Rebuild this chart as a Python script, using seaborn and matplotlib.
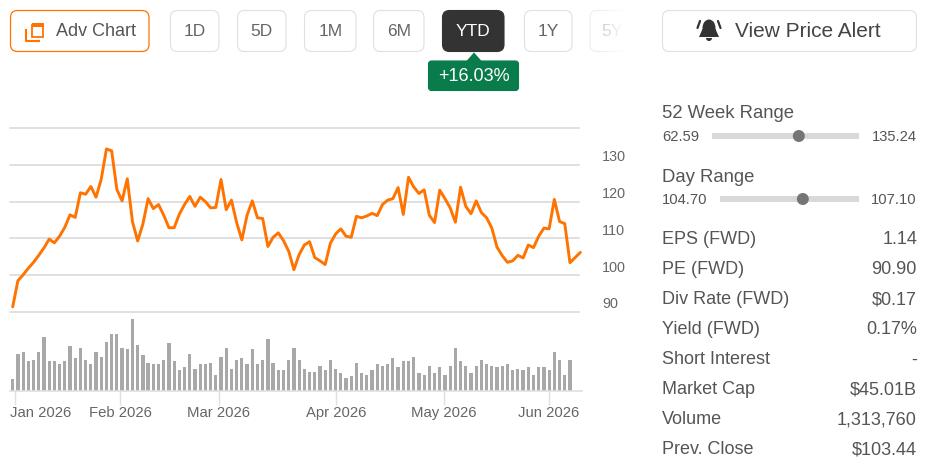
import numpy as np
import pandas as pd
import seaborn as sns
import matplotlib
matplotlib.use("Agg")
import matplotlib.pyplot as plt
from matplotlib.patches import FancyBboxPatch, Rectangle, Polygon, Circle, Ellipse, Wedge
from matplotlib.transforms import ScaledTranslation

# Daily closing price for each session, year to date
price = [91.4, 98.5, 100.1, 101.9, 103.5, 105.4, 107.4, 109.8, 108.8, 110.6,
         113.0, 116.4, 115.7, 122.4, 122.0, 124.1, 121.2, 126.1, 134.3, 133.8,
         123.3, 120.2, 126.2, 114.5, 109.3, 113.9, 120.8, 118.1, 119.2, 116.3,
         112.9, 112.9, 116.6, 119.2, 121.4, 118.7, 121.2, 120.0, 118.3, 118.4,
         126.0, 117.8, 120.4, 114.3, 109.6, 116.3, 120.2, 115.6, 115.4, 107.8,
         110.3, 111.5, 109.4, 106.5, 101.5, 105.6, 108.2, 109.1, 104.8, 103.9,
         102.9, 108.7, 111.2, 112.6, 110.6, 110.3, 116.0, 115.6, 116.1, 116.8,
         116.2, 119.2, 120.4, 120.8, 123.8, 116.5, 126.6, 124.0, 122.2, 123.2,
         116.3, 114.3, 123.1, 120.8, 118.3, 114.4, 123.9, 118.7, 116.7, 120.2,
         117.0, 115.6, 112.8, 107.6, 105.3, 103.5, 103.9, 105.4, 104.7, 108.2,
         107.5, 110.6, 112.8, 112.6, 120.6, 114.6, 114.0, 103.4, 104.8, 106.2]

# Daily traded volume, millions of shares
volume = [0.35, 1.12, 1.16, 0.89, 0.94, 1.16, 1.61, 0.89, 0.89, 0.80,
          0.89, 1.34, 0.98, 1.30, 0.94, 0.80, 1.16, 1.03, 1.48, 1.70,
          1.70, 1.30, 1.25, 2.15, 1.39, 1.07, 0.85, 0.80, 0.80, 0.94,
          1.43, 0.89, 0.62, 0.71, 1.12, 0.67, 0.80, 0.80, 0.85, 0.49,
          1.03, 1.30, 0.67, 0.94, 0.98, 0.80, 1.25, 0.80, 0.94, 1.57,
          0.85, 0.62, 0.62, 0.94, 1.30, 0.94, 0.67, 0.58, 0.58, 0.76,
          0.62, 0.94, 0.67, 0.53, 0.40, 0.44, 0.85, 0.53, 0.49, 0.62,
          0.80, 0.76, 0.80, 0.98, 0.71, 0.89, 0.89, 1.03, 0.53, 0.49,
          0.76, 0.53, 0.71, 0.49, 0.76, 1.30, 0.89, 0.76, 0.53, 0.76,
          0.94, 0.80, 0.76, 0.71, 0.76, 0.80, 0.62, 0.67, 0.62, 0.71,
          0.49, 0.71, 0.71, 0.62, 1.16, 0.94, 0.49, 0.94]

month_labels = ["Jan 2026", "Feb 2026", "Mar 2026", "Apr 2026", "May 2026", "Jun 2026"]
month_sessions = [0.44, 20.6, 39.6, 62.1, 82.8, 103.0]
price_grid = [90, 100, 110, 120, 130, 140]
price_ticks = ["90", "100", "110", "120", "130", ""]

periods = ["1D", "5D", "1M", "6M", "YTD", "1Y", "5Y"]
ytd_change = "+16.03%"
stat_names = ["EPS (FWD)", "PE (FWD)", "Div Rate (FWD)", "Yield (FWD)",
              "Short Interest", "Market Cap", "Volume", "Prev. Close"]
stat_values = ["1.14", "90.90", "$0.17", "0.17%", "-", "$45.01B", "1,313,760", "$103.44"]
week_range = (62.59, 135.24)
day_range = (104.70, 107.10)
week_marker = 105.5
day_marker = 106.13

W, H = 936, 469
ORANGE = "#ff7300"
TEXT = "#555555"
GRID = "#e0e0e0"
BAR = "#a8a8a8"

sns.set_theme(style="white")
plt.rcParams["font.family"] = ["Liberation Sans", "DejaVu Sans"]

fig = plt.figure(figsize=(W / 100, H / 100), dpi=100, facecolor="white")


def px_axes(x0, y0, x1, y1, **kw):
    """Axes placed by its pixel box, with y measured from the top edge."""
    return fig.add_axes([x0 / W, 1 - y1 / H, (x1 - x0) / W, (y1 - y0) / H], **kw)


# Page furniture drawn in pixel units
ui = px_axes(0, 0, W, H)
ui.set_xlim(0, W)
ui.set_ylim(H, 0)
ui.axis("off")


def button(x0, x1, y0=10.5, y1=51.5, edge="#e0e0e0", face="white", lw=0.8, r=7):
    ui.add_patch(FancyBboxPatch((x0 + r, y0 + r), x1 - x0 - 2 * r, y1 - y0 - 2 * r,
                                boxstyle=f"round,pad={r},rounding_size={r}",
                                ec=edge, fc=face, lw=lw, mutation_aspect=1))


# Advanced chart button with its stacked-window icon
button(10.5, 149, edge=ORANGE, lw=0.9)
ui.add_patch(Rectangle((32, 25.5), 11, 11.5, fc="white", ec=ORANGE, lw=1.3))
ui.add_patch(Rectangle((31.5, 23), 12, 4, fc=ORANGE, ec="none"))
ui.plot([26, 26, 40], [29, 41, 41], color=ORANGE, lw=1.5, solid_capstyle="butt")
ui.text(56, 31.5, "Adv Chart", fontsize=13, color=TEXT, va="center", ha="left")

# Period selector
boxes = [(170.5, 219), (237.5, 286), (304.5, 356), (373.5, 424), (442.5, 504), (524.5, 572), (590, 640)]
for name, (x0, x1) in zip(periods, boxes):
    active = name == "YTD"
    faded = name == "5Y"
    button(x0, x1, edge="#333333" if active else ("#eeeeee" if faded else "#e0e0e0"),
           face="#333333" if active else "white")
    ui.text((x0 + x1) / 2 if not faded else 612, 31.5, name, fontsize=12.5,
            color="white" if active else ("#cccccc" if faded else "#666666"),
            ha="center", va="center")

# The selector fades out towards its right edge
fade = np.ones((1, 30, 4))
fade[0, :, 3] = np.linspace(0, 1, 30)
ui.imshow(fade, extent=(600, 625, 5, 57), aspect="auto", zorder=5)
ui.add_patch(Rectangle((625, 5), 20, 52, fc="white", ec="none", zorder=5))
ui.set_xlim(0, W)
ui.set_ylim(H, 0)

# Year-to-date change badge under the active period
ui.add_patch(Polygon([[466, 61.5], [474, 52.5], [482, 61.5]], fc="#0a7b4a", ec="none"))
button(428.5, 518.5, 61, 90.5, edge="#0a7b4a", face="#0a7b4a", r=3)
ui.text(473.5, 76.5, ytd_change, fontsize=13, color="white", ha="center", va="center")

# Price alert button with a bell icon
button(662.5, 916.5)
ui.add_patch(Ellipse((709, 28), 13, 17, fc="#333333", ec="none"))
ui.add_patch(Polygon([[702.5, 29], [715.5, 29], [719, 37], [699, 37]], fc="#333333", ec="none"))
ui.add_patch(Wedge((709, 38), 3, 0, 180, fc="#333333", ec="none"))
ui.plot([700, 697.5], [21, 28], color="#333333", lw=1.6)
ui.plot([718, 720.5], [21, 28], color="#333333", lw=1.6)
ui.text(735, 31.5, "View Price Alert", fontsize=15, color="#444444", ha="left", va="center")


def range_row(title, y_title, y_bar, bounds, marker, left, right, low_text, high_text):
    ui.text(662, y_title + 1, title, fontsize=13.3, color=TEXT, ha="left", va="center")
    ui.text(662, y_bar + 1, low_text, fontsize=10.6, color=TEXT, ha="left", va="center")
    ui.text(917, y_bar + 1, high_text, fontsize=10.6, color=TEXT, ha="right", va="center")
    ui.add_patch(Rectangle((left, y_bar - 3), right - left, 6, fc="#d9d9d9", ec="none"))
    frac = (marker - bounds[0]) / (bounds[1] - bounds[0])
    ui.add_patch(Circle((left + frac * (right - left), y_bar), 6, fc="#757575", ec="none"))


range_row("52 Week Range", 113, 136, week_range, week_marker, 712, 859, "62.59", "135.24")
range_row("Day Range", 176, 199, day_range, day_marker, 720, 859, "104.70", "107.10")

for i, (name, value) in enumerate(zip(stat_names, stat_values)):
    y = 240 + 30 * i
    ui.text(662, y, name, fontsize=13, color=TEXT, ha="left", va="center")
    ui.text(917, y, value, fontsize=13, color=TEXT, ha="right", va="center")

# Price line; session spacing lines up with the volume panel below
session_px = 5.208
xlim = ((10 - 12.7) / session_px, (579 - 12.7) / session_px)
price_df = pd.DataFrame({"session": np.arange(len(price)), "price": price})

ax = px_axes(10, 128, 579, 312)
ax.patch.set_alpha(0)
sns.lineplot(data=price_df, x="session", y="price", color=ORANGE, linewidth=2.1,
             ax=ax, clip_on=False, zorder=3, errorbar=None)
ax.set_xlim(*xlim)
ax.set_ylim(90, 140)
ax.set_xlabel("")
ax.set_ylabel("")
ax.set_xticks([])
ax.yaxis.tick_right()
ax.set_yticks(price_grid)
ax.set_yticklabels(price_ticks, fontsize=10.4, color="#666666")
ax.tick_params(axis="y", length=0, pad=16.5)
ax.grid(axis="y", color=GRID, linewidth=1.4, zorder=1)
ax.set_axisbelow(True)
sns.despine(ax=ax, left=True, bottom=True, right=True, top=True)
lift = ScaledTranslation(0, 9 / 100, fig.dpi_scale_trans)
for label in ax.get_yticklabels():
    label.set_transform(label.get_transform() + lift)
for line in ax.get_ygridlines():
    line.set_clip_on(False)

# Volume bars with month ticks underneath
vol_df = pd.DataFrame({"session": np.arange(len(volume)), "volume": volume})
vax = px_axes(10, 312, 579, 391)
vax.patch.set_alpha(0)
sns.barplot(data=vol_df, x="session", y="volume", native_scale=True, color=BAR,
            saturation=1, width=0.62, linewidth=0, ax=vax, errorbar=None)
vax.set_xlim(*xlim)
vax.set_ylim(0, 2.37)
vax.set_xlabel("")
vax.set_ylabel("")
vax.set_yticks([])
vax.set_xticks(month_sessions)
vax.set_xticklabels(month_labels, fontsize=10.7, color="#666666")
vax.tick_params(axis="x", length=10, width=1, color=GRID, pad=1, bottom=True)
sns.despine(ax=vax, left=True, right=True, top=True)
vax.spines["bottom"].set_color(GRID)
vax.spines["bottom"].set_linewidth(1.2)
vax.spines["bottom"].set_bounds(xlim[0], (582.5 - 12.7) / session_px)
vax.spines["bottom"].set_clip_on(False)
# The first month label is kept inside the plot's left edge
first = vax.get_xticklabels()[0]
first.set_ha("left")
first.set_transform(first.get_transform() + ScaledTranslation(-5 / 100, 0, fig.dpi_scale_trans))

fig.savefig("out.png", dpi=100, facecolor="white")
